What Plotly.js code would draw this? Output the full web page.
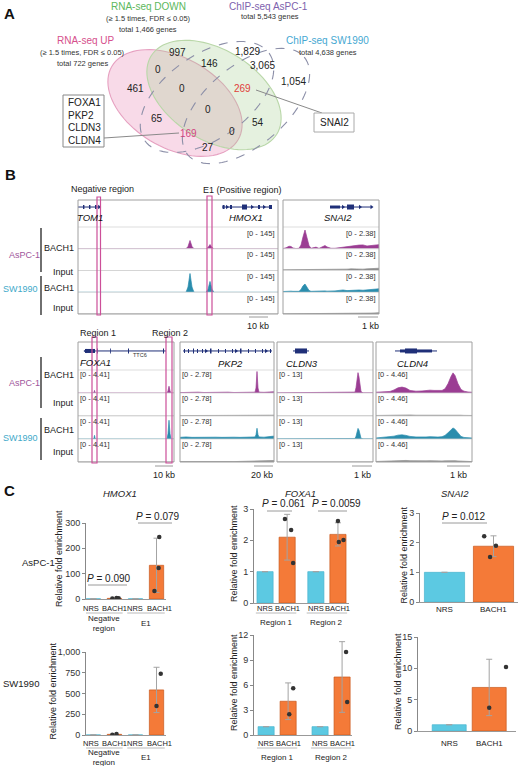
<!DOCTYPE html>
<html><head><meta charset="utf-8">
<script src="https://cdn.plot.ly/plotly-3.0.1.min.js"></script>
<style>html,body{margin:0;padding:0;background:#fff}#chart{width:520px;height:766px}</style>
</head><body><div id="chart"></div>
<script>
// ================= DATA =================
// ---- Panel A: Venn diagram ----
const vennSetNames = ['RNA-seq DOWN', 'ChIP-seq AsPC-1', 'ChIP-seq SW1990', 'RNA-seq UP'];
const vennCriteria = '(≥ 1.5 times, FDR ≤ 0.05)';
const vennTotals = ['total 1,466 genes', 'total 5,543 genes', 'total 4,638 genes', 'total 722 genes'];
const vennRegionCounts = ['997', '1,829', '0', '146', '3,065', '1,054', '461', '0', '269', '0', '65', '54', '169', '0', '27'];
const calloutGenesA = ['FOXA1', 'PKP2', 'CLDN3', 'CLDN4'];
const calloutGenesB = ['SNAI2'];

// ---- Panel B: genome browser tracks ----
const cellLines = ['AsPC-1', 'SW1990'];
const trackNames = ['BACH1', 'Input', 'BACH1', 'Input'];
const rangeLabels = ['[0 - 145]', '[0 - 2.38]', '[0 - 4.41]', '[0 - 2.78]', '[0 - 13]', '[0 - 4.46]'];
const rangeMax = [145, 2.38, 4.41, 2.78, 13, 4.46];
const scaleLabels = ['10 kb', '1 kb', '10 kb', '20 kb', '1 kb', '1 kb'];
const regionLabelsTop = ['Negative region', 'E1 (Positive region)'];
const regionLabelsBottom = ['Region 1', 'Region 2'];

// TOM1 / HMOX1 locus
const hmoxPos = [0, 54, 55, 56, 57, 58, 64, 65, 66, 67, 68, 100];
const hmoxAspcBach1 = [0, 0, 15, 55, 15, 0, 0, 8, 28, 8, 0, 0];
const hmoxAspcInput = [0, 0, 0, 0, 0, 0, 0, 0, 0, 0, 0, 0];
const hmoxSwBach1 = [0, 0, 35, 125, 35, 0, 0, 20, 72, 20, 0, 0];
const hmoxSwInput = [0, 0, 0, 0, 0, 0, 0, 0, 0, 0, 0, 0];
// SNAI2 locus
const snaiPos = [0, 3, 6, 8, 10, 13, 16, 18, 20, 22, 24, 26, 28, 31, 33, 36, 40, 42, 44, 48, 52, 56, 60, 64, 68, 72, 76, 80, 84, 88, 92, 96];
const snaiAspcBach1 = [0.02, 0.1, 0.28, 0.25, 0.08, 0.02, 0.05, 0.4, 1.3, 2.05, 1.2, 0.35, 0.05, 0.15, 0.18, 0.04, 0.2, 0.35, 0.2, 0.05, 0.05, 0.12, 0.2, 0.25, 0.3, 0.35, 0.4, 0.42, 0.3, 0.35, 0.4, 0.45];
const snaiAspcInput = [0.08, 0.08, 0.1, 0.1, 0.1, 0.1, 0.12, 0.12, 0.15, 0.15, 0.12, 0.1, 0.1, 0.1, 0.12, 0.15, 0.12, 0.1, 0.12, 0.15, 0.12, 0.1, 0.12, 0.15, 0.18, 0.15, 0.12, 0.15, 0.18, 0.2, 0.22, 0.25];
const snaiSwBach1 = [0.08, 0.12, 0.15, 0.12, 0.1, 0.08, 0.1, 0.3, 0.7, 0.9, 0.6, 0.2, 0.1, 0.12, 0.1, 0.08, 0.12, 0.15, 0.12, 0.1, 0.15, 0.2, 0.25, 0.18, 0.2, 0.28, 0.25, 0.22, 0.25, 0.3, 0.35, 0.38];
const snaiSwInput = [0.02, 0.02, 0.03, 0.03, 0.02, 0.02, 0.03, 0.03, 0.02, 0.03, 0.03, 0.02, 0.02, 0.03, 0.03, 0.02, 0.03, 0.03, 0.02, 0.03, 0.03, 0.04, 0.04, 0.03, 0.04, 0.05, 0.05, 0.06, 0.08, 0.1, 0.12, 0.15];
// FOXA1 locus
const foxPos = [0, 15, 16, 16.5, 17, 18, 30, 50, 70, 89, 90, 91, 92, 93, 96];
const foxAspcBach1 = [0, 0, 0.15, 0.5, 0.15, 0, 0, 0, 0, 0, 0.4, 1.3, 0.4, 0, 0];
const foxAspcInput = [0, 0, 0, 0.05, 0, 0, 0, 0, 0, 0, 0, 0.05, 0, 0, 0];
const foxSwBach1 = [0, 0, 0.2, 0.7, 0.2, 0, 0, 0, 0, 0, 1.0, 3.6, 1.0, 0, 0];
const foxSwInput = [0, 0, 0, 0.05, 0, 0, 0, 0, 0, 0, 0, 0.05, 0, 0, 0];
// PKP2 locus
const pkpPos = [0, 6, 12, 18, 24, 30, 36, 42, 48, 54, 60, 66, 72, 75, 76, 77, 78, 79, 84, 90, 94];
const pkpAspcBach1 = [0.05, 0.08, 0.05, 0.1, 0.06, 0.08, 0.05, 0.07, 0.1, 0.06, 0.08, 0.1, 0.07, 0.1, 0.6, 2.6, 0.6, 0.1, 0.08, 0.12, 0.15];
const pkpAspcInput = [0.05, 0.05, 0.06, 0.05, 0.07, 0.05, 0.06, 0.05, 0.06, 0.07, 0.05, 0.06, 0.05, 0.06, 0.06, 0.08, 0.06, 0.05, 0.06, 0.08, 0.1];
const pkpSwBach1 = [0.2, 0.25, 0.2, 0.22, 0.25, 0.2, 0.22, 0.2, 0.25, 0.22, 0.2, 0.25, 0.22, 0.25, 0.5, 1.3, 0.5, 0.25, 0.22, 0.3, 0.35];
const pkpSwInput = [0.05, 0.06, 0.05, 0.06, 0.05, 0.06, 0.07, 0.05, 0.06, 0.05, 0.07, 0.06, 0.08, 0.06, 0.07, 0.08, 0.07, 0.06, 0.1, 0.12, 0.18];
// CLDN3 locus
const cldn3Pos = [0, 20, 40, 60, 76, 78, 79, 80, 81, 82, 83, 84, 86, 96];
const cldn3AspcBach1 = [0.1, 0.1, 0.1, 0.1, 0.1, 0.5, 3, 8, 11.5, 9, 4, 0.8, 0.1, 0.1];
const cldn3AspcInput = [0.05, 0.05, 0.05, 0.05, 0.05, 0.05, 0.06, 0.08, 0.08, 0.06, 0.05, 0.05, 0.05, 0.05];
const cldn3SwBach1 = [0.1, 0.1, 0.1, 0.1, 0.1, 0.3, 1.5, 4.5, 6, 5, 2, 0.4, 0.1, 0.1];
const cldn3SwInput = [0.05, 0.05, 0.05, 0.05, 0.05, 0.05, 0.06, 0.07, 0.07, 0.06, 0.05, 0.05, 0.05, 0.05];
// CLDN4 locus
const cldn4Pos = [0, 8, 14, 18, 22, 26, 30, 34, 40, 46, 50, 54, 58, 62, 66, 69, 72, 75, 77, 79, 82, 85, 88, 92, 96];
const cldn4AspcBach1 = [0.15, 0.2, 0.3, 0.6, 1.0, 1.15, 0.95, 0.5, 0.35, 0.4, 0.5, 0.55, 0.5, 0.45, 0.5, 0.8, 1.8, 3.2, 3.9, 3.4, 1.8, 0.7, 0.35, 0.2, 0.15];
const cldn4AspcInput = [0.1, 0.12, 0.15, 0.2, 0.25, 0.28, 0.25, 0.2, 0.15, 0.15, 0.18, 0.2, 0.18, 0.15, 0.15, 0.18, 0.2, 0.25, 0.28, 0.25, 0.2, 0.15, 0.12, 0.1, 0.1];
const cldn4SwBach1 = [0.2, 0.3, 0.4, 0.55, 0.75, 0.8, 0.7, 0.5, 0.4, 0.35, 0.4, 0.45, 0.4, 0.38, 0.45, 0.7, 1.2, 1.8, 2.15, 1.9, 1.1, 0.5, 0.3, 0.25, 0.2];
const cldn4SwInput = [0.1, 0.15, 0.2, 0.3, 0.35, 0.35, 0.3, 0.25, 0.2, 0.2, 0.22, 0.25, 0.2, 0.18, 0.2, 0.22, 0.25, 0.3, 0.3, 0.25, 0.2, 0.15, 0.12, 0.1, 0.08];

// ---- Panel C: ChIP-qPCR ----
const pairCats = ['NRS', 'BACH1', 'NRS', 'BACH1'];
const singleCats = ['NRS', 'BACH1'];
const hmoxGroups = ['Negative<br>region', 'E1'];
const foxGroups = ['Region 1', 'Region 2'];
const hmoxAspcMean = [1, 2.5, 1, 133];
const hmoxAspcSD = [null, 1.5, null, 107];
const hmoxAspcDots = [[], [1.5, 3.5, 2.5], [], [245, 122, 32]];
const hmoxSwMean = [1, 8, 1, 543];
const hmoxSwSD = [null, 5, null, 273];
const hmoxSwDots = [[], [12, 4], [], [737, 350]];
const foxAspcMean = [1, 2.1, 1, 2.19];
const foxAspcSD = [null, 0.73, null, 0.37];
const foxAspcDots = [[], [2.68, 2.33, 1.28], [], [2.62, 1.95, 2.01]];
const foxSwMean = [1, 4.05, 1, 6.96];
const foxSwSD = [null, 2.2, null, 4.24];
const foxSwDots = [[], [5.6, 2.5], [], [9.96, 3.96]];
const snaiAspcMean = [1, 1.88];
const snaiAspcSD = [null, 0.35];
const snaiAspcDots = [[], [2.22, 1.9, 1.52]];
const snaiSwMean = [1, 6.95];
const snaiSwSD = [null, 4.5];
const snaiSwDots = [[], [10.2, 3.7]];
const pHmoxAspc = ['0.090', '0.079'];
const pFoxAspc = ['0.061', '0.0059'];
const pSnaiAspc = ['0.012'];

// ================= DRAWING =================
const FONT = 'Liberation Sans, Arial, Helvetica, sans-serif';
const W = 520, H = 766;
const X = p => p / W, Y = p => 1 - p / H;
const data = [];
const layout = {
  width: W, height: H, margin: {l: 0, r: 0, t: 0, b: 0}, autosize: false,
  paper_bgcolor: '#ffffff', plot_bgcolor: 'rgba(0,0,0,0)', showlegend: false,
  font: {family: FONT}, annotations: [], shapes: []
};
let nx = 0, ny = 0;
function newX(p0, p1, range, extra) {
  nx++; const key = nx === 1 ? 'xaxis' : 'xaxis' + nx;
  layout[key] = Object.assign({domain: [X(p0), X(p1)], range: range, visible: false, fixedrange: true, showgrid: false, zeroline: false}, extra || {});
  return {id: nx === 1 ? 'x' : 'x' + nx, key: key};
}
function newY(pBot, pTop, range, extra) {
  ny++; const key = ny === 1 ? 'yaxis' : 'yaxis' + ny;
  layout[key] = Object.assign({domain: [Y(pBot), Y(pTop)], range: range, visible: false, fixedrange: true, showgrid: false, zeroline: false}, extra || {});
  return {id: ny === 1 ? 'y' : 'y' + ny, key: key};
}
function T(x, y, text, size, color, anchor, extra) {
  layout.annotations.push(Object.assign({xref: 'paper', yref: 'paper', x: X(x), y: Y(y), text: text, showarrow: false,
    xanchor: anchor || 'center', yanchor: 'middle', borderpad: 0,
    font: {family: FONT, size: size || 9, color: color || '#222'}}, extra || {}));
}
function L(x0, y0, x1, y1, color, width, dash) {
  layout.shapes.push({type: 'line', xref: 'paper', yref: 'paper', x0: X(x0), y0: Y(y0), x1: X(x1), y1: Y(y1),
    line: {color: color, width: width || 1, dash: dash || 'solid'}});
}
function R(x0, y0, x1, y1, color, width, fill) {
  layout.shapes.push({type: 'rect', xref: 'paper', yref: 'paper', x0: X(x0), y0: Y(y0), x1: X(x1), y1: Y(y1),
    line: {color: color, width: width || 1}, fillcolor: fill || 'rgba(0,0,0,0)'});
}
function ellipse(cx, cy, a, b, deg, line, fill, dash) {
  const t = deg * Math.PI / 180; let s = '';
  for (let i = 0; i <= 90; i++) {
    const u = 2 * Math.PI * i / 90;
    const px = cx + a * Math.cos(u) * Math.cos(t) - b * Math.sin(u) * Math.sin(t);
    const py = cy + a * Math.cos(u) * Math.sin(t) + b * Math.sin(u) * Math.cos(t);
    s += (i ? 'L' : 'M') + X(px).toFixed(5) + ',' + Y(py).toFixed(5);
  }
  layout.shapes.push({type: 'path', xref: 'paper', yref: 'paper', path: s + 'Z',
    line: {color: line, width: 1.1, dash: dash || 'solid'}, fillcolor: fill || 'rgba(0,0,0,0)'});
}

// ---------- Panel A ----------
T(9, 13, '<b>A</b>', 15, '#111');
ellipse(175, 103, 73, 45, 30, '#e6a0c0', 'rgba(235,150,190,0.35)');
ellipse(214, 95, 74, 45, 32, '#b9d7a8', 'rgba(170,210,150,0.30)');
ellipse(207, 97, 76, 42, -35, '#8c8fa8', null, 'dash');
ellipse(246, 106, 76, 40, -40, '#8c8fa8', null, 'dash');
T(148, 6, vennSetNames[0], 10, '#5cb85c');
T(148, 18, vennCriteria, 7.5, '#333');
T(148, 29, vennTotals[0], 7.5, '#333');
T(268, 6, vennSetNames[1], 10, '#7d62ad');
T(270, 17, vennTotals[1], 7.5, '#333');
T(327, 40, vennSetNames[2], 10, '#45a8d2');
T(328, 52, vennTotals[2], 7.5, '#333');
T(86, 41, vennSetNames[3], 10, '#d6508c');
T(82, 52, vennCriteria, 7.5, '#333');
T(83, 64, vennTotals[3], 7.5, '#333');
const vennCountPos = [[177, 52], [247, 51], [158, 69], [209, 63], [262, 65], [293, 82], [135, 88], [182, 88], [242, 88], [208, 110], [157, 118], [258, 123], [188, 133], [232, 132], [208, 147]];
vennRegionCounts.forEach((c, i) => {
  const col = i === 8 ? '#e0413a' : (i === 12 ? '#d2447f' : '#222');
  T(vennCountPos[i][0], vennCountPos[i][1], c, 10, col);
});
L(104, 138, 179, 133, '#8a8a8a', 1);
L(256, 90, 322, 113, '#8a8a8a', 1);
R(63, 95, 104, 147, '#888', 1, '#ffffff');
calloutGenesA.forEach((g, i) => T(67, 103 + i * 12.5, g, 10, '#222', 'left'));
R(314, 113, 354, 132, '#aaa', 1, '#ffffff');
T(334, 123, calloutGenesB[0], 10, '#222');

// ---------- Panel B ----------
T(10, 174, '<b>B</b>', 15, '#111');
const PURPLE = '#9b3d93', TEAL = '#2a8dad', GRAY = '#8e8e8e';
const trackColors = [PURPLE, GRAY, TEAL, GRAY];
const frames = [
  {x0: 78, x1: 278, top: 200, gb: 227, bot: 314, span: 100, side: 'right', pos: hmoxPos, tracks: [hmoxAspcBach1, hmoxAspcInput, hmoxSwBach1, hmoxSwInput]},
  {x0: 283, x1: 379, top: 200, gb: 227, bot: 314, span: 96, side: 'right', pos: snaiPos, tracks: [snaiAspcBach1, snaiAspcInput, snaiSwBach1, snaiSwInput]},
  {x0: 78, x1: 174, top: 342, gb: 370, bot: 462, span: 96, side: 'left', pos: foxPos, tracks: [foxAspcBach1, foxAspcInput, foxSwBach1, foxSwInput]},
  {x0: 180, x1: 274, top: 342, gb: 370, bot: 462, span: 94, side: 'left', pos: pkpPos, tracks: [pkpAspcBach1, pkpAspcInput, pkpSwBach1, pkpSwInput]},
  {x0: 277, x1: 373, top: 342, gb: 370, bot: 462, span: 96, side: 'left', pos: cldn3Pos, tracks: [cldn3AspcBach1, cldn3AspcInput, cldn3SwBach1, cldn3SwInput]},
  {x0: 376, x1: 472, top: 342, gb: 370, bot: 462, span: 96, side: 'left', pos: cldn4Pos, tracks: [cldn4AspcBach1, cldn4AspcInput, cldn4SwBach1, cldn4SwInput]}
];
// gene models (in frame coordinates)
const geneModels = [
  [{line: [0, 11], exons: [[2.5, 3.2, 4], [5.5, 6.2, 4], [8.5, 9.3, 4]], arrows: [10.6], dir: 1},
   {line: [72, 97], exons: [[72.3, 73.3, 4], [76, 77, 4], [82, 84.5, 5], [90, 91, 4], [95.5, 97, 4]], arrows: [74.5, 87, 93], dir: 1}],
  [{line: [47, 89], exons: [[47, 57, 3], [64, 71, 5]], arrows: [60, 77, 88.5], dir: 1}],
  [{line: [7, 88], exons: [[7, 17, 4], [19, 19.8, 5], [32, 32.8, 5], [50, 51, 5], [85, 86, 5]], arrows: [7.5], dir: -1}],
  [{line: [3, 92], exons: [[4, 5, 4], [8, 9, 4], [13, 14, 5], [17, 18, 4], [22, 23, 4], [30, 31.5, 5], [38, 39, 4], [45, 46, 4], [52, 53, 4], [60, 61.5, 5], [68, 69, 4], [75, 76, 4], [82, 83, 4], [90, 91, 4]], arrows: [26, 56, 86], dir: 1}],
  [{line: [16, 32], exons: [[18, 30, 5]], arrows: [], dir: 1}],
  [{line: [19, 61], exons: [[24, 56, 3], [29, 41, 5]], arrows: [], dir: 1}]
];
const geneLabels = [[['TOM1', 90, 218], ['HMOX1', 246, 218]], [['SNAI2', 338, 218]], [['FOXA1', 95, 362]], [['PKP2', 230, 363]], [['CLDN3', 302, 363]], [['CLDN4', 412, 363]]];
const GENE = '#1f2f78';

frames.forEach((f, fi) => {
  const xa = newX(f.x0, f.x1, [0, f.span]);
  const gy = newY(f.gb, f.top, [0, 1]);
  const gLevel = fi < 2 ? 0.74 : 0.68;
  geneModels[fi].forEach(g => {
    data.push({type: 'scatter', mode: 'lines', x: g.line, y: [gLevel, gLevel], xaxis: xa.id, yaxis: gy.id,
      line: {color: GENE, width: 1}, hoverinfo: 'skip'});
    g.exons.forEach(e => data.push({type: 'scatter', mode: 'lines', x: [e[0], e[1]], y: [gLevel, gLevel], xaxis: xa.id, yaxis: gy.id,
      line: {color: GENE, width: e[2]}, hoverinfo: 'skip'}));
    if (g.arrows.length) data.push({type: 'scatter', mode: 'markers', x: g.arrows, y: g.arrows.map(() => gLevel), xaxis: xa.id, yaxis: gy.id,
      marker: {symbol: g.dir > 0 ? 'triangle-right' : 'triangle-left', size: 4, color: GENE}, hoverinfo: 'skip'});
  });
  geneLabels[fi].forEach(l => T(l[1], l[2], '<i>' + l[0] + '</i>', 9.5, '#111'));
  const th = (f.bot - f.gb) / 4;
  f.tracks.forEach((vals, ti) => {
    const tTop = f.gb + ti * th, tBot = tTop + th;
    const ya = newY(tBot, tTop, [0, rangeMax[fi]]);
    data.push({type: 'scatter', mode: 'lines', x: f.pos, y: vals, xaxis: xa.id, yaxis: ya.id,
      fill: 'tozeroy', fillcolor: trackColors[ti], line: {color: trackColors[ti], width: 0.7}, hoverinfo: 'skip'});
    L(f.x0, tTop, f.x1, tTop, '#d4d4d4', 0.8);
    if (f.side === 'right') T(f.x1 - 2, tTop + 6, rangeLabels[fi], 7.5, '#333', 'right');
    else T(f.x0 + 1, tTop + 5, rangeLabels[fi], 7.5, '#333', 'left');
  });
  R(f.x0, f.top, f.x1, f.bot, '#a0a0a0', 1);
});
const HL = '#cc4f99';
R(97, 197, 100.5, 315, HL, 1.2);
R(207, 196, 212, 315, HL, 1.2);
R(92, 337, 97, 463, HL, 1.2);
R(166, 337, 172, 463, HL, 1.2);
T(102, 189, regionLabelsTop[0], 9, '#222');
T(242, 190, regionLabelsTop[1], 9, '#222');
T(98, 333, regionLabelsBottom[0], 9, '#222');
T(170, 333, regionLabelsBottom[1], 9, '#222');
T(140, 355, 'TTC6', 5.5, '#333');
const scalePos = [[258, 322, 249, 268], [370, 322, 358, 378], [164, 471, 155, 173], [262, 471, 254, 273], [362, 471, 352, 372], [458, 471, 447, 470]];
scaleLabels.forEach((s, i) => {
  const p = scalePos[i];
  L(p[2], p[1] - 5, p[3], p[1] - 5, '#9a9a9a', 1);
  T(p[0], p[1] + 4, s, 9, '#222');
});
const blocks = [
  {aspc: 255, sw: 289, br: [[228, 272], [276, 315]], lab: [248, 272, 288, 308]},
  {aspc: 383, sw: 438, br: [[357, 408], [418, 460]], lab: [375, 403, 430, 452]}
];
blocks.forEach(b => {
  T(24, b.aspc, cellLines[0], 9, '#a0569c');
  T(20, b.sw, cellLines[1], 9, '#3ea9c9');
  L(41, b.br[0][0], 41, b.br[0][1], '#222', 1.3);
  L(41, b.br[1][0], 41, b.br[1][1], '#222', 1.3);
  trackNames.forEach((n, i) => T(n === 'BACH1' ? 43 : 52, b.lab[i], n, 9, '#222', 'left'));
});

// ---------- Panel C ----------
T(9, 490, '<b>C</b>', 15, '#111');
T(120, 493, '<i>HMOX1</i>', 9.5, '#222');
T(300, 493, '<i>FOXA1</i>', 9.5, '#222');
T(455, 493, '<i>SNAI2</i>', 9.5, '#222');
T(38, 562, cellLines[0], 9.5, '#222');
T(21, 683, cellLines[1], 9.5, '#222');
const CYAN = '#5cc9e2', ORANGE = '#f47a38';
function barChart(c) {
  const xa = newX(c.xd[0], c.xd[1], c.xr, {visible: true, showline: true, linecolor: '#999', linewidth: 1, showticklabels: false, ticks: ''});
  const ya = newY(c.yd[0], c.yd[1], c.yr, {visible: true, showline: true, linecolor: '#888', linewidth: 1, ticks: 'outside', ticklen: 3,
    tickcolor: '#888', tickvals: c.tickvals, ticktext: c.ticktext, tickfont: {family: FONT, size: 9, color: '#333'}});
  layout[xa.key].anchor = ya.id; layout[ya.key].anchor = xa.id;
  const cols = c.cats.map(k => k === 'NRS' ? CYAN : ORANGE);
  const lcols = c.cats.map(k => k === 'NRS' ? '#49b5cf' : '#c9591d');
  data.push({type: 'bar', x: c.pos, y: c.mean, width: c.bw, xaxis: xa.id, yaxis: ya.id, hoverinfo: 'skip',
    marker: {color: cols, line: {color: lcols, width: 0.7}},
    error_y: {type: 'data', array: c.sd, visible: true, color: '#a3a3a3', thickness: 1, width: 3}});
  const dx = [], dy = [];
  c.dots.forEach((arr, i) => arr.forEach((v, k) => { dx.push(c.pos[i] + c.dotDx[i][k]); dy.push(v); }));
  data.push({type: 'scatter', mode: 'markers', x: dx, y: dy, xaxis: xa.id, yaxis: ya.id, hoverinfo: 'skip',
    marker: {color: '#333', size: 4.5}});
  c.cats.forEach((k, i) => layout.annotations.push({xref: xa.id, yref: 'paper', x: c.pos[i] + (c.labDx ? c.labDx[i] : 0), y: Y(c.labelY), text: k, showarrow: false,
    xanchor: 'center', yanchor: 'middle', font: {family: FONT, size: c.labSize || 7.5, color: '#222'}}));
  if (c.groups) {
    c.groups.forEach((g, gi) => {
      const a = c.pos[2 * gi], b = c.pos[2 * gi + 1];
      layout.annotations.push({xref: xa.id, yref: 'paper', x: (a + b) / 2, y: Y(c.groupY), text: g, showarrow: false,
        xanchor: 'center', yanchor: 'middle', font: {family: FONT, size: 8, color: '#222'}});
      layout.shapes.push({type: 'line', xref: xa.id, yref: 'paper', x0: a - c.bw / 2 - 0.05, x1: b + c.bw / 2 + 0.05,
        y0: Y(c.ulY), y1: Y(c.ulY), line: {color: '#a8a8a8', width: 0.8}});
    });
  }
  (c.pv || []).forEach(p => {
    T(p.x, p.ty, '<i>P</i> = ' + p.t, 10, '#222');
    L(p.lx[0], p.ly, p.lx[1], p.ly, '#9a9a9a', 1);
  });
  T(c.titleX, (c.yd[0] + c.yd[1]) / 2 - 2, 'Relative fold enrichment', 9, '#222', 'center', {textangle: -90});
}
barChart({xd: [86, 166], xr: [-0.35, 3.45], yd: [599, 523], yr: [0, 300], tickvals: [0, 100, 200, 300], ticktext: ['0', '100', '200', '300'],
  cats: pairCats, pos: [0, 1, 2, 3], bw: 0.68, mean: hmoxAspcMean, sd: hmoxAspcSD, dots: hmoxAspcDots, labDx: [-0.1, 0, 0, 0.15],
  dotDx: [[], [-0.1, 0.1, 0.2], [], [0.13, 0.1, -0.1]], labelY: 608, groups: hmoxGroups, groupY: 623, ulY: 613, titleX: 59,
  pv: [{t: pHmoxAspc[0], x: 109, ty: 578, lx: [88, 127], ly: 585}, {t: pHmoxAspc[1], x: 158, ty: 516, lx: [138, 172], ly: 523}]});
barChart({xd: [86, 166], xr: [-0.35, 3.45], yd: [735, 652], yr: [0, 1000], tickvals: [0, 250, 500, 750, 1000], ticktext: ['0', '250', '500', '750', '1,000'],
  cats: pairCats, pos: [0, 1, 2, 3], bw: 0.68, mean: hmoxSwMean, sd: hmoxSwSD, dots: hmoxSwDots, labDx: [-0.1, 0, 0, 0.15],
  dotDx: [[], [0.1, -0.1], [], [0.2, 0]], labelY: 743, groups: hmoxGroups, groupY: 757, ulY: 748, titleX: 52});
barChart({xd: [254, 349], xr: [-0.5, 3.8], yd: [603, 509], yr: [0, 3], tickvals: [0, 1, 2, 3], ticktext: ['0', '1', '2', '3'],
  cats: pairCats, pos: [0, 1, 2.3, 3.3], bw: 0.73, mean: foxAspcMean, sd: foxAspcSD, dots: foxAspcDots,
  dotDx: [[], [-0.1, 0.18, 0.27], [], [0, 0.04, 0.25]], labelY: 608, groups: foxGroups, groupY: 622, ulY: 613, titleX: 234,
  pv: [{t: pFoxAspc[0], x: 284, ty: 503, lx: [267, 292], ly: 511}, {t: pFoxAspc[1], x: 336, ty: 503, lx: [318, 347], ly: 511}]});
barChart({xd: [254, 352], xr: [-0.55, 3.9], yd: [735, 635], yr: [0, 12], tickvals: [0, 3, 6, 9, 12], ticktext: ['0', '3', '6', '9', '12'],
  cats: pairCats, pos: [0, 1, 2.45, 3.45], bw: 0.73, mean: foxSwMean, sd: foxSwSD, dots: foxSwDots,
  dotDx: [[], [0.23, 0.05], [], [0.18, 0.23]], labelY: 743, groups: foxGroups, groupY: 757, ulY: 748, titleX: 234});
barChart({xd: [420, 518], xr: [-0.5, 1.5], yd: [602, 513], yr: [0, 3], tickvals: [0, 1, 2, 3], ticktext: ['0', '1', '2', '3'],
  cats: singleCats, pos: [0, 1], bw: 0.82, mean: snaiAspcMean, sd: snaiAspcSD, dots: snaiAspcDots, labSize: 8,
  dotDx: [[], [-0.19, 0.05, -0.07]], labelY: 609, titleX: 403,
  pv: [{t: pSnaiAspc[0], x: 464, ty: 516, lx: [442, 487], ly: 523}]});
barChart({xd: [418, 516], xr: [-0.78, 1.67], yd: [731, 637], yr: [0, 15], tickvals: [0, 5, 10, 15], ticktext: ['0', '5', '10', '15'],
  cats: singleCats, pos: [0, 1], bw: 0.85, mean: snaiSwMean, sd: snaiSwSD, dots: snaiSwDots, labSize: 8,
  dotDx: [[], [0.42, 0]], labelY: 743, titleX: 398});

Plotly.newPlot('chart', data, layout, {staticPlot: true, displayModeBar: false});
</script>
</body></html>
